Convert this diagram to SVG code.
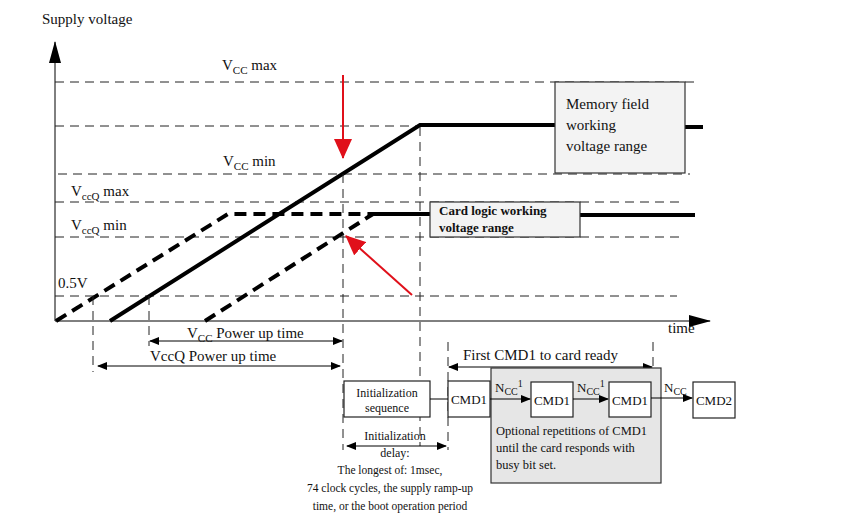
<svg xmlns="http://www.w3.org/2000/svg" width="860" height="523" viewBox="0 0 860 523" font-family="'Liberation Serif', 'Times New Roman', serif">
<defs>
<marker id="ah" markerWidth="10" markerHeight="8" refX="9" refY="4" orient="auto-start-reverse" markerUnits="userSpaceOnUse"><path d="M0,0 L10,4 L0,8 Z" fill="#000"/></marker>
<marker id="big" markerWidth="22" markerHeight="12" refX="21" refY="6" orient="auto" markerUnits="userSpaceOnUse"><path d="M0,0 L22,6 L0,12 Z" fill="#000"/></marker>
<marker id="red" markerWidth="20" markerHeight="18" refX="19" refY="9" orient="auto" markerUnits="userSpaceOnUse"><path d="M0,0 L20,9 L0,18 Z" fill="#e0101a"/></marker>
</defs>
<style>
text{font-family:'Liberation Serif','Times New Roman',serif;fill:#111}
.t{font-size:15px}
.s{font-size:11px}
.g{stroke:#222;stroke-width:1;stroke-dasharray:9,6;fill:none}
.v{stroke:#222;stroke-width:1;stroke-dasharray:9,6;fill:none}
.thick{stroke:#000;stroke-width:4;fill:none}
.td{stroke:#000;stroke-width:4;stroke-dasharray:12,7;fill:none}
.box{fill:#fff;stroke:#222;stroke-width:1.2}
.gb{fill:#f3f3f3;stroke:#333;stroke-width:1.2}
.ln{stroke:#000;stroke-width:1;fill:none}
</style>
<rect width="860" height="523" fill="#fff"/>
<g id="axes">
<line x1="55" y1="321" x2="55" y2="42" class="ln" marker-end="url(#big)"/>
<line x1="55" y1="321" x2="710" y2="321" class="ln" marker-end="url(#big)"/>
<text x="42" y="24" class="t">Supply voltage</text>
<text x="668" y="333" class="t">time</text>
</g>
<g id="gridlines">
<line x1="55" y1="82" x2="695" y2="82" class="g"/>
<line x1="55" y1="126" x2="690" y2="126" class="g"/>
<line x1="58" y1="174" x2="690" y2="174" class="g"/>
<line x1="55" y1="202" x2="685" y2="202" class="g"/>
<line x1="55" y1="237" x2="685" y2="237" class="g"/>
<line x1="55" y1="296" x2="677" y2="296" class="g"/>
<text x="222" y="70" class="t">V<tspan class="s" dy="4">CC</tspan><tspan dy="-4"> max</tspan></text>
<text x="223" y="166" class="t">V<tspan class="s" dy="4">CC</tspan><tspan dy="-4"> min</tspan></text>
<text x="71" y="196" class="t">V<tspan class="s" dy="4">ccQ</tspan><tspan dy="-4"> max</tspan></text>
<text x="71" y="230" class="t">V<tspan class="s" dy="4">ccQ</tspan><tspan dy="-4"> min</tspan></text>
<text x="58" y="288" class="t">0.5V</text>
</g>
<g id="curves">
<polyline points="110,321 420,125 555,125" class="thick"/>
<line x1="685" y1="127" x2="703" y2="127" class="thick"/>
<polyline points="56,321 228,214 375,214" class="td"/>
<line x1="375" y1="214" x2="430" y2="214" class="thick"/>
<line x1="580" y1="215" x2="695" y2="215" class="thick"/>
<line x1="205" y1="321" x2="373" y2="214" class="td"/>
</g>
<g id="verticals">
<line x1="93" y1="296" x2="93" y2="372" class="v"/>
<line x1="149" y1="296" x2="149" y2="346" class="v"/>
<line x1="343" y1="174" x2="343" y2="450" class="v"/>
<line x1="420" y1="127" x2="420" y2="446" class="v"/>
<line x1="448" y1="342" x2="448" y2="450" class="v"/>
<line x1="653" y1="342" x2="653" y2="368" class="v"/>
</g>
<g id="mem-box">
<rect x="555" y="82" width="130" height="91" class="gb"/>
<text x="566" y="109" class="t" font-size="16">Memory field</text>
<text x="566" y="130" class="t" font-size="16">working</text>
<text x="566" y="151" class="t" font-size="16">voltage range</text>
</g>
<g id="logic-box">
<rect x="430" y="202" width="150" height="35" class="gb"/>
<text x="439" y="215" font-weight="bold" font-size="13">Card logic working</text>
<text x="439" y="232" font-weight="bold" font-size="13">voltage range</text>
</g>
<g id="red-arrows">
<line x1="343" y1="75" x2="343" y2="158" stroke="#e0101a" stroke-width="2" marker-end="url(#red)"/>
<line x1="412" y1="295" x2="346" y2="236" stroke="#e0101a" stroke-width="2" marker-end="url(#red)"/>
</g>
<g id="time-arrows">
<line x1="150" y1="341" x2="342" y2="341" class="ln" marker-start="url(#ah)" marker-end="url(#ah)"/>
<text x="187" y="338" class="t">V<tspan class="s" dy="4">CC</tspan><tspan dy="-4"> Power up time</tspan></text>
<line x1="98" y1="366" x2="340" y2="366" class="ln" marker-start="url(#ah)" marker-end="url(#ah)"/>
<text x="150" y="361" class="t">VccQ Power up time</text>
<line x1="449" y1="367" x2="652" y2="367" class="ln" marker-start="url(#ah)" marker-end="url(#ah)"/>
<text x="463" y="360" class="t" font-size="16">First CMD1 to card ready</text>
<line x1="347" y1="446" x2="446" y2="446" class="ln" marker-start="url(#ah)" marker-end="url(#ah)"/>
</g>
<g id="gray-box">
<rect x="491" y="368" width="170" height="115" style="fill:#e6e6e6;stroke:#333;stroke-width:1.2"/>
<text x="496" y="435" font-size="12.5">Optional repetitions of CMD1</text>
<text x="496" y="452" font-size="12.5">until the card responds with</text>
<text x="496" y="469" font-size="12.5">busy bit set.</text>
</g>
<g id="init-seq">
<rect x="344" y="381" width="86" height="36" class="box"/>
<text x="387" y="397" font-size="12" text-anchor="middle">Initialization</text>
<text x="387" y="412" font-size="12" text-anchor="middle">sequence</text>
</g>
<g id="cmd1a"><rect x="448" y="381" width="42" height="36" class="box"/><text x="469" y="404" font-size="13" text-anchor="middle">CMD1</text></g>
<g id="cmd1b"><rect x="531" y="382" width="42" height="35" class="box"/><text x="552" y="405" font-size="13" text-anchor="middle">CMD1</text></g>
<g id="cmd1c"><rect x="609" y="382" width="42" height="35" class="box"/><text x="630" y="405" font-size="13" text-anchor="middle">CMD1</text></g>
<g id="cmd2"><rect x="693" y="382" width="42" height="36" class="box"/><text x="714" y="405" font-size="13" text-anchor="middle">CMD2</text></g>
<g id="connectors">
<line x1="430" y1="399" x2="448" y2="399" class="ln"/>
<line x1="490" y1="399" x2="530" y2="399" class="ln" marker-end="url(#ah)"/>
<line x1="573" y1="399" x2="608" y2="399" class="ln" marker-end="url(#ah)"/>
<line x1="651" y1="398" x2="692" y2="398" class="ln" marker-end="url(#ah)"/>
<text x="495" y="392" font-size="13">N<tspan font-size="10" dy="3">CC</tspan><tspan font-size="10" dy="-8">1</tspan></text>
<text x="577" y="392" font-size="13">N<tspan font-size="10" dy="3">CC</tspan><tspan font-size="10" dy="-8">1</tspan></text>
<text x="664" y="392" font-size="13">N<tspan font-size="10" dy="3">CC</tspan></text>
</g>
<g id="delay-text">
<text x="395" y="440" font-size="12" text-anchor="middle">Initialization</text>
<text x="395" y="457" font-size="12" text-anchor="middle">delay:</text>
<text x="390" y="474" font-size="11.5" text-anchor="middle">The longest of: 1msec,</text>
<text x="390" y="492" font-size="11.5" text-anchor="middle">74 clock cycles, the supply ramp-up</text>
<text x="390" y="510" font-size="11.5" text-anchor="middle">time, or the boot operation period</text>
</g>
</svg>
